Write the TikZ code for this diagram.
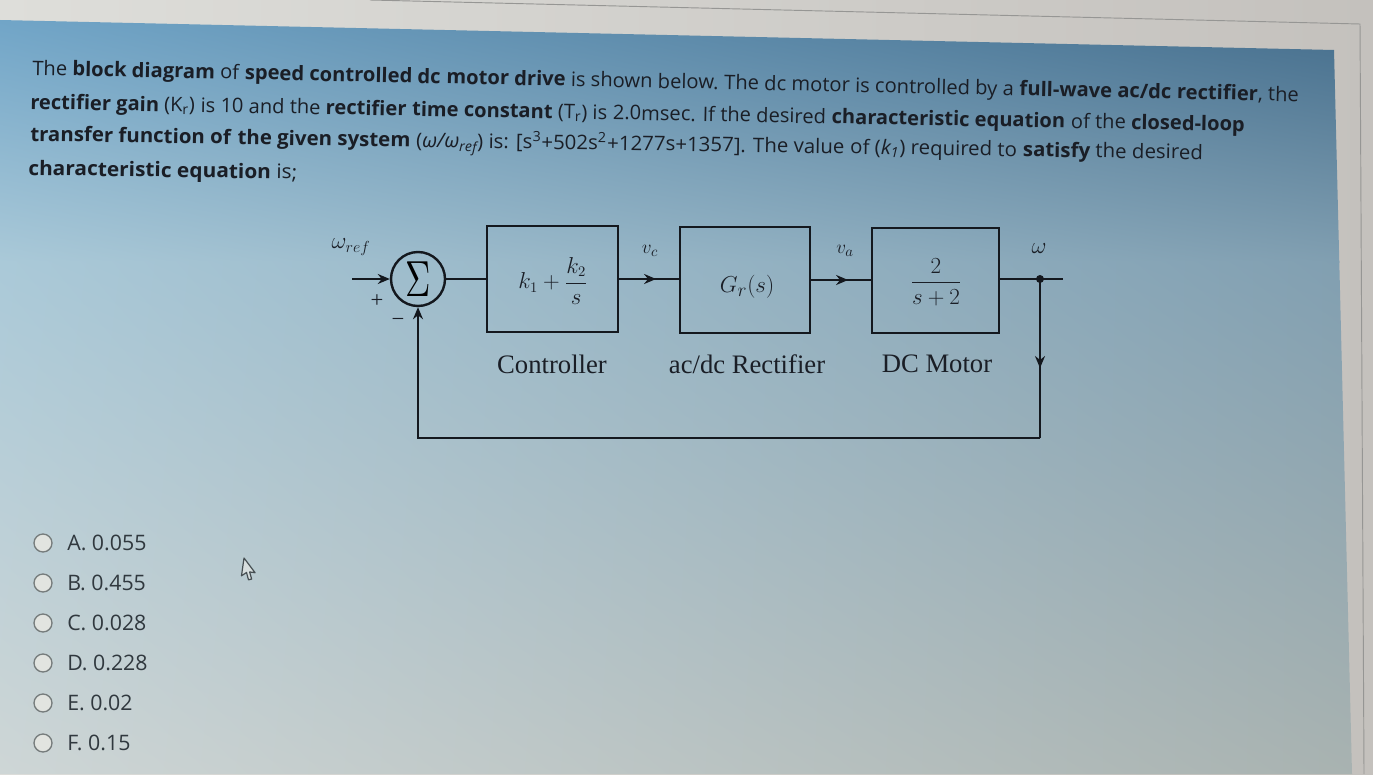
\documentclass[tikz,border=0pt]{standalone}
\usepackage{amsmath}
\usepackage{fontspec}
\setmainfont{Open Sans}
\newfontfamily\serif{Liberation Serif}
\usepackage{graphicx}
\usetikzlibrary{arrows.meta,decorations.markings,shadings}
\definecolor{ink}{RGB}{26,30,38}
\definecolor{dline}{RGB}{20,24,30}
\definecolor{opt}{RGB}{48,56,62}
\definecolor{bgl}{RGB}{222,222,218}
\definecolor{bgr}{RGB}{196,193,189}
\definecolor{frameline}{RGB}{150,150,148}
\definecolor{pul}{RGB}{108,162,198}
\definecolor{pur}{RGB}{62,104,136}
\definecolor{pml}{RGB}{170,201,216}
\definecolor{pmr}{RGB}{128,158,176}
\definecolor{pll}{RGB}{206,214,214}
\definecolor{plr}{RGB}{168,178,176}
\definecolor{radioline}{RGB}{118,124,124}
\definecolor{radiofill}{RGB}{226,228,224}
\definecolor{curline}{RGB}{70,78,82}
\definecolor{curfill}{RGB}{215,222,222}
\newsavebox\tlbox
\def\tlsx{1}
% one tilted text line (pieces \pa..\pf), set in six rotated pieces scaled to a given width
\newcommand\tline[5]{%
  \node[qline,rotate=#2] (#1a) at (#3,#4) {\sbox\tlbox{\pa\pb\pc\pd\pe\pf}\pgfmathsetmacro\tmpsx{#5/\the\wd\tlbox}\global\let\tlsx\tmpsx\scalebox{\tlsx}[1]{\pa}};
  \node[qline,rotate=#2] (#1b) at (#1a.base east) {\scalebox{\tlsx}[1]{\pb}};
  \node[qline,rotate=#2] (#1c) at (#1b.base east) {\scalebox{\tlsx}[1]{\pc}};
  \node[qline,rotate=#2] (#1d) at (#1c.base east) {\scalebox{\tlsx}[1]{\pd}};
  \node[qline,rotate=#2] (#1e) at (#1d.base east) {\scalebox{\tlsx}[1]{\pe}};
  \node[qline,rotate=#2] (#1f) at (#1e.base east) {\scalebox{\tlsx}[1]{\pf}};
}
\begin{document}
\begin{tikzpicture}[x=0.75pt,y=-0.75pt,
  blk/.style={draw=dline,line width=2.1pt,inner sep=0pt},
  sig/.style={draw=dline,line width=1.8pt},
  tip/.style={-{Stealth[length=9pt,width=7.5pt]}},
  midarrow/.style={postaction={decorate},decoration={markings,mark=at position #1 with {\arrow{Stealth[length=9pt,width=7.5pt]}}}},
  lbl/.style={font=\serif\fontsize{20}{22}\selectfont,text=ink,inner sep=0pt},
  mth/.style={text=ink,inner sep=0pt},
  qline/.style={anchor=base west,text=ink,inner sep=0pt,font=\fontsize{15}{18}\selectfont},
  radio/.style={circle,draw=radioline,line width=1pt,fill=radiofill,minimum size=13.5pt,inner sep=0pt},
  otext/.style={anchor=west,text=opt,inner sep=0pt,font=\fontsize{16}{18}\selectfont}
]
\useasboundingbox (0,0) rectangle (1373,774);
% background (photo of a screen)
\shade[left color=bgl,right color=bgr] (0,0) rectangle (1373,774);
\draw[frameline,line width=0.7pt] (370,0) -- (1360,24) -- (1364,774);
\begin{scope}
\clip (0,20) -- (1334,50) -- (1352,774) -- (0,774) -- cycle;
\shade[upper left=pul,upper right=pur,lower left=pml,lower right=pmr] (0,0) rectangle (1373,262);
\shade[upper left=pml,upper right=pmr,lower left=pll,lower right=plr] (0,261) rectangle (1373,774);
\end{scope}

% question text
\def\pa{The \textbf{block diagram} of}
\def\pb{\ \textbf{speed controlled dc}}
\def\pc{\ \textbf{motor drive} is shown below.}
\def\pd{\ The dc motor is controlled by a}
\def\pe{\ \textbf{full-wave ac/dc}}
\def\pf{\ \textbf{rectifier}, the}
\tline{l1}{-1.2}{32}{75}{948.75}
\def\pa{\textbf{rectifier gain} (K\textsubscript{r})}
\def\pb{\ is 10 and the \textbf{rectifier}}
\def\pc{\ \textbf{time constant} (T\textsubscript{r}) is}
\def\pd{\ 2.0msec. If the desired}
\def\pe{\ \textbf{characteristic equation}}
\def\pf{\ of the \textbf{closed-loop}}
\tline{l2}{-1.05}{30}{109}{909}
\def\pa{\textbf{transfer function of}}
\def\pb{\ \textbf{the given system}}
\def\pc{\ (\textit{ω/ω\textsubscript{ref}}) is: [s\textsuperscript{3}+502s\textsuperscript{2}}
\def\pd{+1277s+1357]. The value}
\def\pe{\ of (\textit{k\textsubscript{1}}) required to}
\def\pf{\ \textbf{satisfy} the desired}
\tline{l3}{-0.9}{30}{141}{877.5}
\node[qline,rotate=-0.9] (l4) at (28,175) {\resizebox{201.75pt}{\height}{\textbf{characteristic equation} is;}};

% block diagram
\node[circle,draw=dline,line width=1.8pt,minimum size=40.5pt,inner sep=0pt] (sum) at (418,279) {\resizebox{19pt}{26pt}{$\Sigma$}};
\node[blk,minimum width=98.25pt,minimum height=79.5pt] (ctrl) at (552.5,279) {};
\node[blk,minimum width=97.5pt,minimum height=79.5pt] (rect) at (745,280) {};
\node[blk,minimum width=95.25pt,minimum height=78.75pt] (motor) at (935.5,280.5) {};
\node[mth,font=\fontsize{16}{18}\selectfont] (cf) at (553,281) {$k_1+\dfrac{k_2}{s}$};
\node[mth,font=\fontsize{19}{21}\selectfont] (gf) at (747,287) {$G_r(s)$};
\node[mth,font=\fontsize{16}{18}\selectfont] (mf) at (936,282) {$\dfrac{2}{s+2}$};

\coordinate (in) at (352,279);
\coordinate (out) at (1063,279);
\node[circle,fill=dline,minimum size=6pt,inner sep=0pt] (dot) at (1040,279) {};
\coordinate (fbr) at (1040,438);

\draw[sig,tip] (in) -- (sum.west);
\draw[sig] (sum.east) -- (ctrl.west);
\draw[sig,midarrow=0.62] (ctrl.east) -- (rect.west |- ctrl.east);
\draw[sig,midarrow=0.62] (rect.east) -- (motor.west |- rect.east);
\draw[sig] (motor.east |- out) -- (out);
\draw[sig,midarrow=0.56] (dot.center) -- (fbr);
\draw[sig,tip] (fbr) -| (sum.south);

% signal labels
\node[mth,font=\fontsize{18}{20}\selectfont] (wref) at (351,247) {$\omega_{ref}$};
\node[mth,font=\fontsize{15}{17}\selectfont] (vc) at (650,251) {$v_{c}$};
\node[mth,font=\fontsize{15}{17}\selectfont] (va) at (845,251) {$v_{a}$};
\node[mth,font=\fontsize{18}{20}\selectfont] (w) at (1039,249) {$\omega$};
\node[mth,font=\serif\fontsize{17}{19}\selectfont] (plus) at (377,301) {+};
\node[mth,font=\serif\fontsize{17}{19}\selectfont] (minus) at (398,322) {\textminus};

% block captions
\node[lbl] (cc) at (552,364) {Controller};
\node[lbl] (rc) at (747,364) {ac/dc Rectifier};
\node[lbl] (mc) at (937,364) {DC Motor};

% answer options
\foreach \y/\t [count=\i] in {543/A. 0.055,583/B. 0.455,623/C. 0.028,663/D. 0.228,703/E. 0.02,743/F. 0.15}{
  \node[radio] (r\i) at (43,\y) {};
  \node[otext] (o\i) at (67,\y) {\t};
}

% mouse pointer
\begin{scope}[shift={(244,558)},rotate=-8]
\draw[line width=0.9pt,draw=curline,fill=curfill,line join=round]
  (0,0) -- (0,18) -- (4.5,14) -- (7.5,21) -- (10.5,19.8) -- (7.5,13) -- (13,13) -- cycle;
\end{scope}
\end{tikzpicture}
\end{document}
